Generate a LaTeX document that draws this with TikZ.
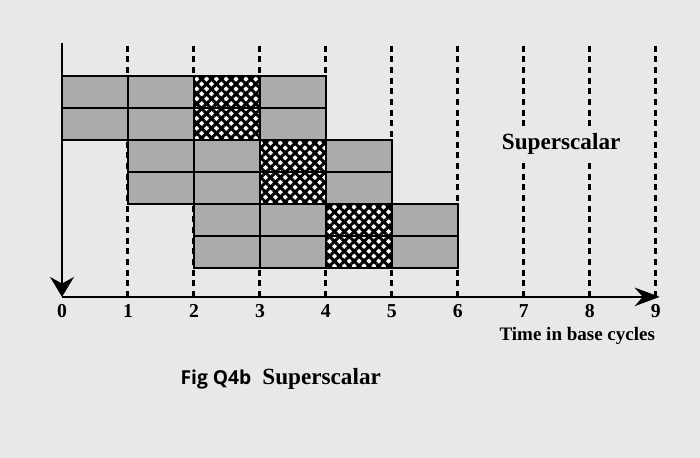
\documentclass[tikz,border=0pt]{standalone}
\usepackage{fontspec}
\setmainfont{Liberation Serif}
\newfontfamily\capsans{Open Sans}
\usetikzlibrary{arrows.meta,patterns.meta}

\definecolor{paper}{HTML}{E8E8E8}
\definecolor{cellgray}{HTML}{ABABAB}

\tikzset{
  graycell/.style={fill=cellgray},
  hatchcell/.style={fill=white,
    postaction={pattern={Lines[angle=45,distance=3pt,line width=1.3pt]}},
    postaction={pattern={Lines[angle=-45,distance=3pt,line width=1.3pt]}}},
  boxline/.style={line width=1.1pt},
  axisline/.style={line width=1pt},
  cycleline/.style={line width=1.3pt,dash pattern=on 2.6pt off 2pt},
  cyclelabel/.style={font=\fontsize{8.5}{10}\selectfont\bfseries,anchor=base,inner sep=1pt},
}

\begin{document}
\begin{tikzpicture}
\fill[paper] (-0.94,-2.44) rectangle (9.67,4.5);
\useasboundingbox (-0.94,-2.44) rectangle (9.67,4.5);

\coordinate (origin) at (0,0);
\coordinate (ytop) at (0,3.85);
\coordinate (xend) at (9.06,0);

% cycle boundaries
\foreach \x in {1,...,9}
  \draw[cycleline] (\x,0) -- (\x,3.85);

% two instructions issued per cycle
\foreach \s/\yb in {0/2.865,0/2.38,1/1.895,1/1.41,2/0.925,2/0.44} {
  \fill[graycell] (\s,\yb) rectangle ++(4,0.485);
  \fill[hatchcell] (\s+2,\yb) rectangle ++(1,0.485);
  \draw[boxline] (\s,\yb) rectangle ++(4,0.485);
  \draw[boxline] (\s+1,\yb) -- ++(0,0.485) (\s+2,\yb) -- ++(0,0.485)
                 (\s+3,\yb) -- ++(0,0.485);
}

% axes
\draw[axisline,-{Stealth[length=3mm,width=3.6mm]}] (ytop) -- (origin);
\draw[axisline,-{Stealth[length=3.8mm,width=2.8mm]}] (origin) -- (xend);

\foreach \x in {0,...,9}
  \node[cyclelabel] (t\x) at (\x,-0.31) {\x};

\node[anchor=base west,font=\bfseries,fill=paper,inner sep=2pt] (superscalar) at (6.59,2.24) {Superscalar};
\node[anchor=base west,font=\fontsize{8.2}{10}\selectfont\bfseries,inner sep=1pt] (timelabel) at (6.59,-0.66) {Time in base cycles};

\node[anchor=base west,font=\capsans\fontsize{8.3}{10}\selectfont\bfseries,inner sep=0pt] (figlabel) at (1.79,-1.33) {Fig Q4b};
\node[anchor=base west,font=\bfseries,inner sep=0pt] (figtitle) at (3.03,-1.33) {Superscalar};
\end{tikzpicture}
\end{document}
